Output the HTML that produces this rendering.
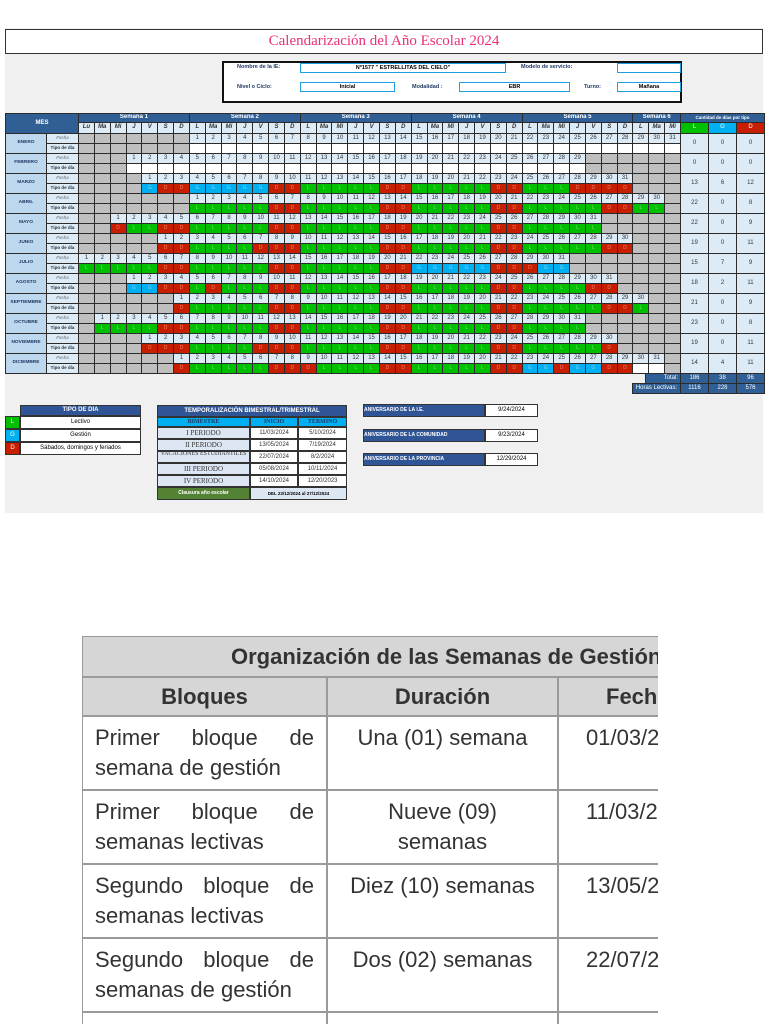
<!DOCTYPE html>
<html><head><meta charset="utf-8">
<style>
*{box-sizing:border-box;margin:0;padding:0}
html,body{width:768px;height:1024px;overflow:hidden}
body{background:#fff;position:relative;font-family:"Liberation Sans",sans-serif}
.a{position:absolute}
.c{position:absolute;border:1px solid #2b2b2b;font-size:6px;line-height:8px;text-align:center;color:#333;overflow:hidden;white-space:nowrap}
.lbl{position:absolute;font-size:5.5px;font-weight:bold;color:#1f3864}
.inp{position:absolute;border:1px solid #1ea0e0;background:#fff;font-size:5.5px;font-weight:bold;text-align:center;line-height:8px}
.t{position:absolute;border:1px solid #333;font-size:6px;text-align:center;overflow:hidden;white-space:nowrap}
.bt{position:absolute;border:1.5px solid #9a9a9a;font-family:"Liberation Sans",sans-serif;color:#333;font-size:22px;line-height:30px;overflow:hidden}
</style></head><body>
<div class="a" style="left:5px;top:28px;width:758px;height:485px;background:#f0f0f0"></div>
<div class="a" style="left:5px;top:29px;width:758px;height:25px;background:#fff;border:1px solid #333;text-align:center;font-family:'Liberation Serif',serif;font-size:15px;line-height:23px;color:#e8307a">Calendarización del Año Escolar 2024</div>

<div class="a" style="left:222px;top:61px;width:460px;height:42px;border:2px solid #111;background:#fff"></div>
<div class="lbl" style="left:237px;top:64px">Nombre de la IE:</div>
<div class="inp" style="left:300px;top:63px;width:206px;height:10px">Nº1577 " ESTRELLITAS DEL CIELO"</div>
<div class="lbl" style="left:521px;top:64px">Modelo de servicio:</div>
<div class="inp" style="left:617px;top:63px;width:64px;height:10px"></div>
<div class="lbl" style="left:237px;top:84px">Nivel o Ciclo:</div>
<div class="inp" style="left:300px;top:82px;width:95px;height:10px">Inicial</div>
<div class="lbl" style="left:412px;top:84px">Modalidad :</div>
<div class="inp" style="left:459px;top:82px;width:111px;height:10px">EBR</div>
<div class="lbl" style="left:584px;top:84px">Turno:</div>
<div class="inp" style="left:617px;top:82px;width:64px;height:10px">Mañana</div>

<div id="cal"></div>

<div class="t" style="left:20px;top:405px;width:121px;height:11px;background:#2f5597;color:#fff;font-weight:bold;line-height:9px">TIPO DE DÍA</div>
<div class="t" style="left:5px;top:416px;width:15px;height:13px;background:#00c000;color:#fff;line-height:11px">L</div>
<div class="t" style="left:20px;top:416px;width:121px;height:13px;background:#fff;line-height:11px">Lectivo</div>
<div class="t" style="left:5px;top:429px;width:15px;height:13px;background:#00b0f0;color:#fff;line-height:11px">G</div>
<div class="t" style="left:20px;top:429px;width:121px;height:13px;background:#fff;line-height:11px">Gestión</div>
<div class="t" style="left:5px;top:442px;width:15px;height:13px;background:#c81e00;color:#fff;line-height:11px">D</div>
<div class="t" style="left:20px;top:442px;width:121px;height:13px;background:#fff;line-height:11px">Sábados, domingos y feriados</div>

<div class="t" style="left:157px;top:405px;width:190px;height:12px;background:#2f5597;color:#fff;font-weight:bold;line-height:10px">TEMPORALIZACIÓN BIMESTRAL/TRIMESTRAL</div>
<div class="t" style="left:157px;top:417px;width:93px;height:10px;background:#00b0f0;color:#1f3864;font-weight:bold;font-family:'Liberation Serif',serif;line-height:8px">BIMESTRE</div>
<div class="t" style="left:250px;top:417px;width:48px;height:10px;background:#00b0f0;color:#1f3864;font-weight:bold;font-family:'Liberation Serif',serif;line-height:8px">INICIO</div>
<div class="t" style="left:298px;top:417px;width:49px;height:10px;background:#00b0f0;color:#1f3864;font-weight:bold;font-family:'Liberation Serif',serif;line-height:8px">TÉRMINO</div>
<div id="per"></div>
<div class="t" style="left:157px;top:487px;width:93px;height:13px;background:#548235;color:#fff;font-weight:bold;font-size:5px;line-height:11px">Clausura año escolar</div>
<div class="t" style="left:250px;top:487px;width:97px;height:13px;background:#dde6f3;font-weight:bold;font-size:4.5px;line-height:11px">DEL 23/12/2024 al 27/12/2024</div>

<div class="t" style="left:363px;top:404px;width:122px;height:13px;background:#2f5597;color:#fff;font-weight:bold;font-size:5px;text-align:left;line-height:11px">ANIVERSARIO DE LA I.E.</div>
<div class="t" style="left:485px;top:404px;width:53px;height:13px;background:#fff;line-height:11px">9/24/2024</div>
<div class="t" style="left:363px;top:429px;width:122px;height:13px;background:#2f5597;color:#fff;font-weight:bold;font-size:5px;text-align:left;line-height:11px">ANIVERSARIO DE LA COMUNIDAD</div>
<div class="t" style="left:485px;top:429px;width:53px;height:13px;background:#fff;line-height:11px">9/23/2024</div>
<div class="t" style="left:363px;top:453px;width:122px;height:13px;background:#2f5597;color:#fff;font-weight:bold;font-size:5px;text-align:left;line-height:11px">ANIVERSARIO DE LA PROVINCIA</div>
<div class="t" style="left:485px;top:453px;width:53px;height:13px;background:#fff;line-height:11px">12/29/2024</div>

<div class="a" style="left:82px;top:636px;width:576px;height:388px;overflow:hidden;background:#fff">
<div class="bt" style="left:0;top:0;width:600px;height:41px;background:#d6d6d6;font-weight:bold;padding-left:148px;line-height:40px;white-space:nowrap">Organización de las Semanas de Gestión</div>
<div class="bt" style="left:0;top:41px;width:245px;height:39px;background:#d6d6d6;font-weight:bold;text-align:center;line-height:37px">Bloques</div>
<div class="bt" style="left:245px;top:41px;width:231px;height:39px;background:#d6d6d6;font-weight:bold;text-align:center;line-height:37px">Duración</div>
<div class="bt" style="left:476px;top:41px;width:150px;height:39px;background:#d6d6d6;font-weight:bold;padding-left:47px;line-height:37px;white-space:nowrap">Fecha</div>
<div id="wk"></div>
</div>

<script>
const months=["ENERO","FEBRERO","MARZO","ABRIL","MAYO","JUNIO","JULIO","AGOSTO","SEPTIEMBRE","OCTUBRE","NOVIEMBRE","DICIEMBRE"];
const offsets=[7,3,4,7,2,5,0,3,6,1,4,6];
const daysIn=[31,29,31,30,31,30,31,31,30,31,30,31];
const typeRows=[
"","",
"GDDGGGGGDDLLLLLDDLLLLLDDLLLDDDD",
"LLLLLDDLLLLLDDLLLLLDDLLLLLDDLL",
"DLLDDLLLLLDDLLLLLDDLLLLLDDLLLLL",
"DDLLLLDDDLLLLLDDLLLLLDDLLLLLDD",
"LLLLLDDLLLLLDDLLLLLDDGGGGGDDDGG",
"GGDDLDLLLDDLLLLLDDLLLLLDDLLLLDD",
"DLLLLLDDLLLLLDDLLLLLDDLLLLLDDL",
"LLLLDDLLLLLDDLLLLLDDLLLLLDDLLLL",
"DDDLLLLDDDLLLLLDDLLLLLDDLLLLLD",
"DLLLLLDDDLLLLDDLLLLLDDGGDGGDD  "];
const totL=[0,0,13,22,22,19,15,18,21,23,19,14];
const totG=[0,0,6,0,0,0,7,2,0,0,0,4];
const totD=[0,0,12,8,9,11,9,11,9,8,11,11];
const totals=[186,38,96];
const hours=[1116,228,576];
const weekNames=["Semana 1","Semana 2","Semana 3","Semana 4","Semana 5","Semana 6"];
const dayHead=["Lu","Ma","Mi","J","V","S","D","L","Ma","Mi","J","V","S","D","L","Ma","Mi","J","V","S","D","L","Ma","Mi","J","V","S","D","L","Ma","Mi","J","V","S","D","L","Ma","Mi"];

const cal=document.getElementById('cal');
const NC=38,X0=78,CW=(680-78)/NC,Y0=133,RH=10;
const colX=i=>X0+i*CW, rowY=r=>Y0+r*RH;
const COL={L:'#00c000',G:'#00b0f0',D:'#c81e00'};
const TXT={L:'#7fe07f',G:'#7fd8f8',D:'#f08070'};
function cell(x,y,w,h,txt,bg,extra){
  const d=document.createElement('div');d.className='c';
  d.style.cssText+=`left:${x}px;top:${y}px;width:${w+1}px;height:${h+1}px;background:${bg};`+(extra||'');
  d.textContent=txt;cal.appendChild(d);return d;
}
let e;
e=cell(5,113,73,20,'MES','#2f5f95','color:#fff;font-weight:bold;line-height:18px;');


weekNames.forEach((n,w)=>{
  const span=w<5?7:3;
  e=cell(colX(w*7),113,span*CW,9,n,'#2f5f95','color:#fff;font-weight:bold;line-height:7px;');
  
  
});
for(let i=0;i<NC;i++){
  e=cell(colX(i),122,CW,11,dayHead[i],'#ddebf7','font-style:italic;font-weight:bold;line-height:9px;');
  
  
}
e=cell(680,113,84,9,'Cantidad de días por tipo','#2f5f95','color:#fff;font-weight:bold;font-size:4.5px;line-height:7px;');


['L','G','D'].forEach((k,j)=>{
  e=cell(680+j*28,122,28,11,k,COL[k],'color:#fff;line-height:9px;');
  
  
});
months.forEach((m,mi)=>{
  const y=rowY(mi*2);
  e=cell(5,y,41,20,m,'#bdd7ee','font-weight:bold;font-size:4.8px;line-height:18px;color:#1f3864;');
  
  
  e=cell(46,y,32,10,'Fecha','#ddebf7','font-style:italic;font-size:4.5px;color:#666;');
  
  
  e=cell(46,y+10,32,10,'Tipo de día','#ddebf7','font-weight:bold;font-size:4.5px;');
  
  
  const tr=typeRows[mi];
  for(let i=0;i<NC;i++){
    const day=i-offsets[mi]+1;
    const inM=day>=1&&day<=daysIn[mi];
    e=cell(colX(i),y,CW,10,inM?String(day):'',inM?'#ddebf7':'#bfbfbf','');
    
    
    let t='',bg='#bfbfbf';
    if(inM){t=tr[day-1]||' ';bg=COL[t]||'#fff';}
    e=cell(colX(i),y+10,CW,10,t.trim(),bg,'font-size:5px;color:'+(TXT[t]||'#333')+';');
    
    
  }
  [totL[mi],totG[mi],totD[mi]].forEach((v,j)=>{
    e=cell(680+j*28,y,28,20,String(v),'#ddebf7','line-height:18px;');
    
    
  });
});
e=cell(645,373,35,10,'Total:','#2f5f95','color:#fff;text-align:right;padding-right:2px;');


e=cell(632,383,48,10,'Horas Lectivas:','#2f5f95','color:#fff;');


totals.forEach((v,j)=>{
  e=cell(680+j*28,373,28,10,String(v),'#2f5f95','color:#fff;');
  
  
});
hours.forEach((v,j)=>{
  e=cell(680+j*28,383,28,10,String(v),'#2f5f95','color:#fff;');
  
  
});

const perNames=["I PERIODO","II PERIODO","VACACIONES ESTUDIANTILES","III PERIODO","IV PERIODO"];
const perStart=["11/03/2024","13/05/2024","22/07/2024","05/08/2024","14/10/2024"];
const perEnd=["5/10/2024","7/19/2024","8/2/2024","10/11/2024","12/20/2023"];
const per=document.getElementById('per');
perNames.forEach((n,i)=>{
  const y=427+i*12;
  [[157,93,n,'#dde6f3'],[250,48,perStart[i],'#fff'],[298,49,perEnd[i],'#fff']].forEach((c,j)=>{
    const d=document.createElement('div');d.className='t';
    d.style.cssText=`left:${c[0]}px;top:${y}px;width:${c[1]}px;height:12px;background:${c[3]};font-family:${j==0?"'Liberation Serif',serif":"'Liberation Sans',sans-serif"};font-size:${j==0?(i==2?6:7):6}px;line-height:${i==2&&j==0?5:10}px;white-space:normal;color:#333`;
    d.textContent=c[2];
    
    
    per.appendChild(d);
  });
});

const blocks=["Primer bloque de semana de gestión","Primer bloque de semanas lectivas","Segundo bloque de semanas lectivas","Segundo bloque de semanas de gestión","Tercer bloque de semanas lectivas"];
const durs=["Una (01) semana","Nueve (09)\nsemanas","Diez (10) semanas","Dos (02) semanas","Diez (10) semanas"];
const dates=["01/03/2024","11/03/2024","13/05/2024","22/07/2024","05/08/2024"];
const wk=document.getElementById('wk');
blocks.forEach((b,i)=>{
  const y=80+i*74;
  const h=i<4?74:14;
  [[0,245,b,'text-align:justify;text-align-last:left;padding:6px 12px 0 12px'],[245,231,durs[i],'text-align:center;padding:6px 2px 0;white-space:pre-line'],[476,100,dates[i],'padding:6px 0 0 27px;white-space:nowrap']].forEach(c=>{
    const d=document.createElement('div');d.className='bt';
    d.style.cssText+=`left:${c[0]}px;top:${y}px;width:${c[1]+(c[0]==476?10:0)}px;height:${h}px;`+c[3];
    d.textContent=c[2];
    
    
    wk.appendChild(d);
  });
});
</script>
</body></html>
